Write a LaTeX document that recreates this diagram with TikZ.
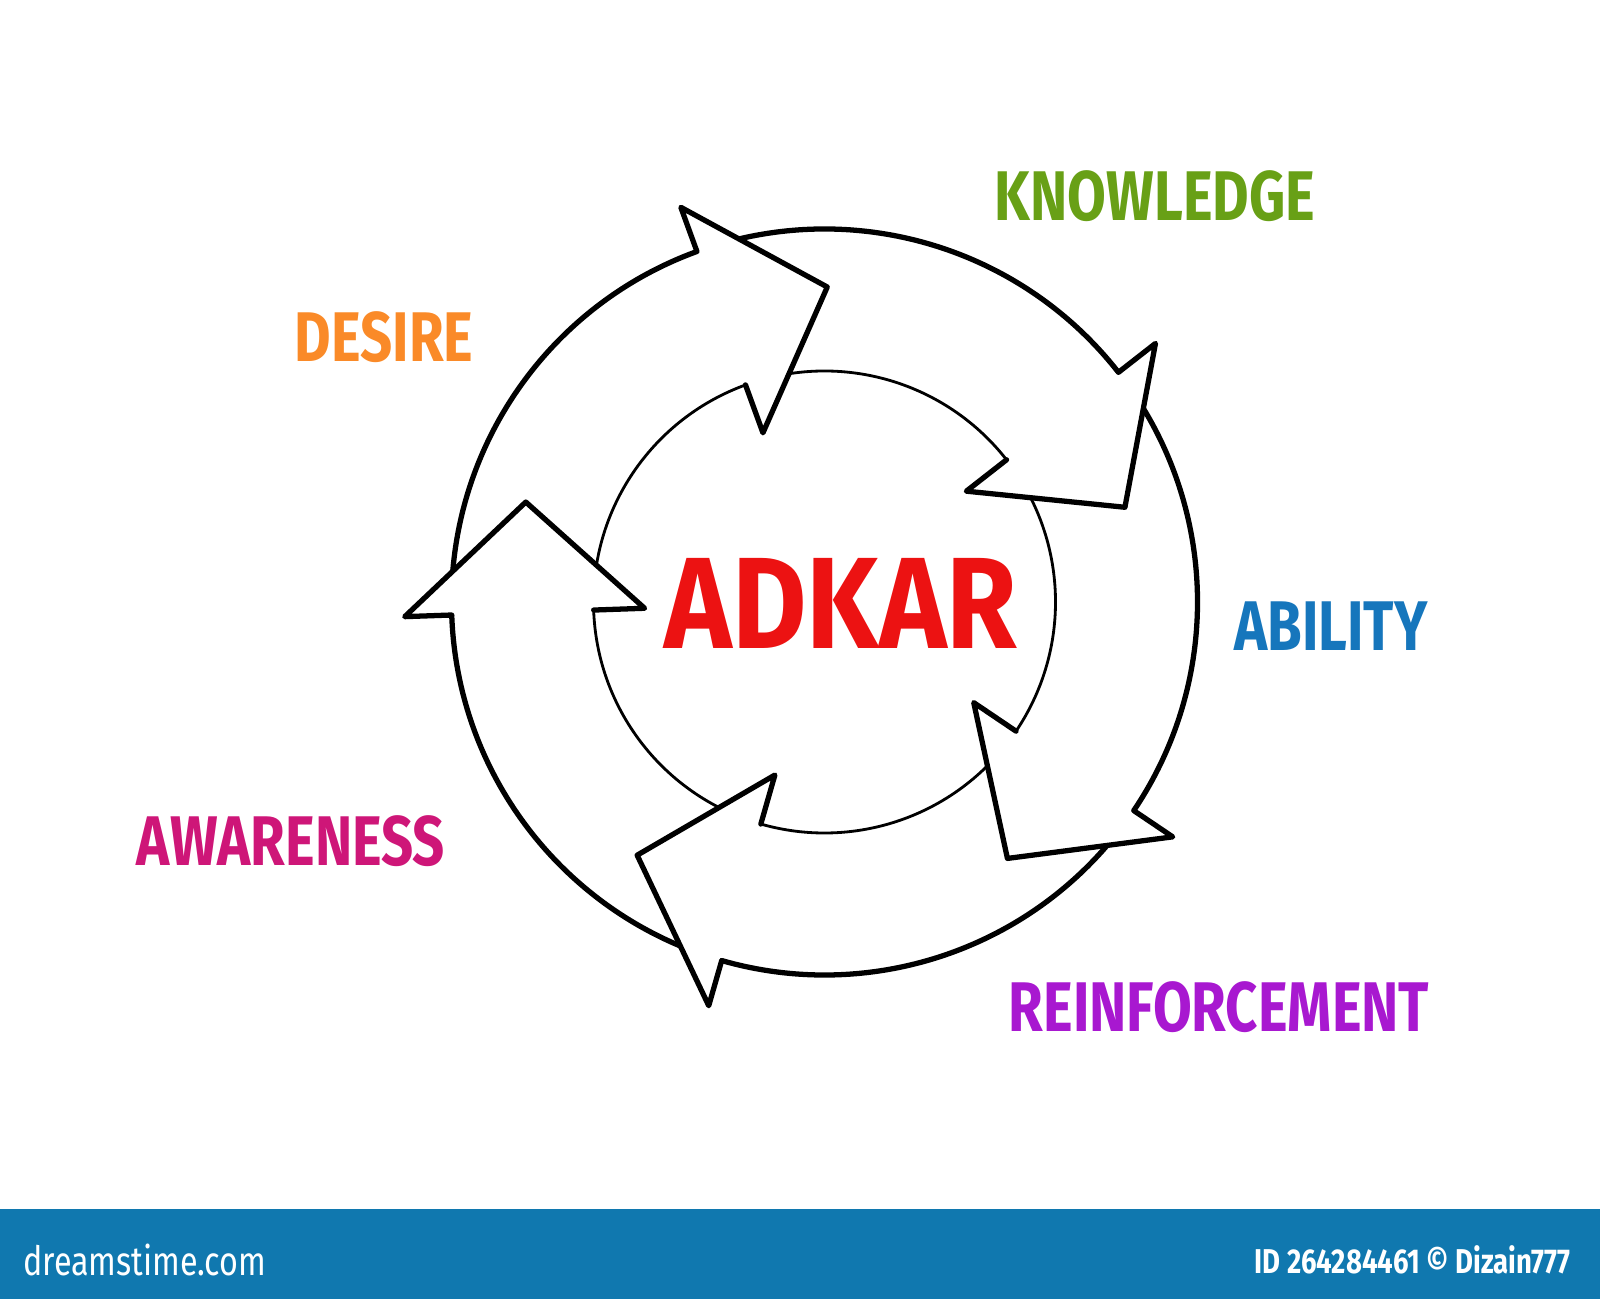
\documentclass[tikz,border=0pt]{standalone}
\usepackage{fontspec}
\setmainfont{Fira Sans}
\newfontfamily\handfont{Fira Sans}[FakeStretch=0.8]
\newfontfamily\titlefont{Fira Sans}[FakeStretch=0.88]
\definecolor{adkarred}{RGB}{236,18,18}
\definecolor{knowgreen}{RGB}{104,160,22}
\definecolor{desireorange}{RGB}{250,138,40}
\definecolor{abilityblue}{RGB}{22,118,188}
\definecolor{awaremagenta}{RGB}{206,22,120}
\definecolor{reinfpurple}{RGB}{168,24,208}
\definecolor{barblue}{RGB}{16,120,175}
\usetikzlibrary{positioning}

\begin{document}
\begin{tikzpicture}[
  ring/.style={line width=1.5pt, line join=round, line cap=round},
  thinring/.style={line width=0.8pt},
  lbl/.style={font=\handfont\bfseries\fontsize{20}{22}\selectfont, inner sep=0pt},
  bartext/.style={text=white, inner sep=0pt}
]
  \useasboundingbox (0,0) rectangle (16,12.99);
  \coordinate (c) at (8.245,6.97);

  \begin{scope}[shift={(c)}]
    % arrow bodies
    \foreach \a in {110,38,-34,-106,-178}{
      \fill[white] (\a+68:3.73) arc[start angle=\a+68, end angle=\a, radius=3.73]
        -- (\a:2.31) arc[start angle=\a, end angle=\a+68, radius=2.31] -- cycle;
      \draw[ring] (\a+68:3.73) arc[start angle=\a+68, end angle=\a, radius=3.73];
      \draw[thinring] (\a:2.31) arc[start angle=\a, end angle=\a+68, radius=2.31];
    }
    % arrow heads
    \foreach \a in {110,38,-34,-106,-178}{
      \fill[white] (\a:4.2) -- (\a-20.5:3.15) -- (\a:1.8) -- cycle;
      \draw[ring] (\a:3.73) -- (\a:4.2) -- (\a-20.5:3.15) -- (\a:1.8) -- (\a:2.31);
    }
  \end{scope}

  \node[font=\titlefont\bfseries\fontsize{37}{40}\selectfont, text=adkarred] (adkar) at (8.41,6.96) {ADKAR};

  \node[lbl, text=knowgreen] (knowledge) at (11.55,11.03) {KNOWLEDGE};
  \node[lbl, text=desireorange] (desire) at (3.84,9.62) {DESIRE};
  \node[lbl, text=abilityblue] (ability) at (13.31,6.73) {ABILITY};
  \node[lbl, text=awaremagenta] (awareness) at (2.91,4.58) {AWARENESS};
  \node[lbl, text=reinfpurple] (reinforcement) at (12.19,2.92) {REINFORCEMENT};

  % bottom bar
  \fill[barblue] (0,0) rectangle (16,0.9);
  \node[bartext, anchor=west, font=\handfont\fontsize{11.5}{13}\selectfont] (site) at (0.225,0.39) {dreamstime.com};
  \node[bartext, anchor=east, font=\handfont\bfseries\fontsize{9.8}{12}\selectfont] (imgid) at (15.71,0.39) {ID 264284461 © Dizain777};
\end{tikzpicture}
\end{document}
